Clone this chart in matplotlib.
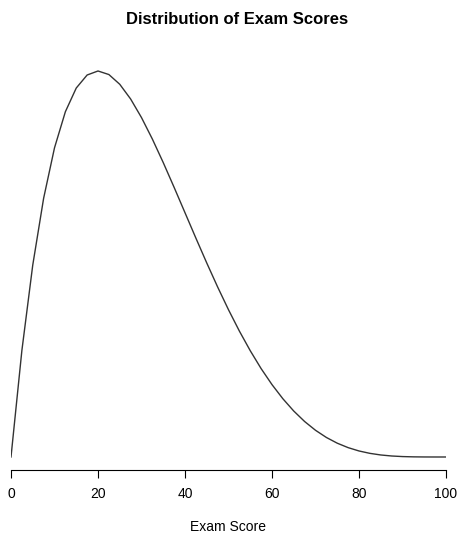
import matplotlib
matplotlib.use("Agg")
import matplotlib.pyplot as plt

scores = [0, 2.5, 5, 7.5, 10, 12.5, 15, 17.5, 20, 22.5, 25, 27.5, 30, 32.5, 35, 37.5, 40, 42.5, 45, 47.5,
          50, 52.5, 55, 57.5, 60, 62.5, 65, 67.5, 70, 72.5, 75, 77.5, 80, 82.5, 85, 87.5, 90, 92.5, 95, 97.5, 100]
density = [0, 0.6778, 1.2218, 1.6472, 1.9683, 2.1982, 2.3491, 2.4320, 2.4576, 2.4350, 2.3730, 2.2793,
           2.1609, 2.0240, 1.8743, 1.7166, 1.5552, 1.3937, 1.2353, 1.0826, 0.9375, 0.8017, 0.6767,
           0.5627, 0.4608, 0.3708, 0.2926, 0.2259, 0.1701, 0.1244, 0.0879, 0.0596, 0.0384, 0.0232,
           0.0129, 0.0064, 0.0027, 0.0009, 0.0002, 0.00002, 0]
xticks = [0, 20, 40, 60, 80, 100]

plt.rcParams['font.family'] = ['Liberation Sans', 'DejaVu Sans']
fig = plt.figure(figsize=(4.74, 5.59), dpi=100)
ax = fig.add_axes([11/474, 89/559, 435/474, 415/559])
ax.plot(scores, density, color='#333333', lw=1.0)
ax.set_xlim(0, 100)
ax.set_ylim(-0.0828, 2.5594)
for s in ['top', 'right', 'left']:
    ax.spines[s].set_visible(False)
ax.set_yticks([])
ax.set_xticks(xticks)
ax.tick_params(axis='x', length=6, labelsize=10, pad=6)
ax.set_xlabel('Exam Score', fontsize=10, labelpad=14)
fig.text(0.5, 1 - 20/559, 'Distribution of Exam Scores', ha='center', va='center',
         fontsize=12, fontweight='bold')
fig.savefig('out.png', dpi=100)
